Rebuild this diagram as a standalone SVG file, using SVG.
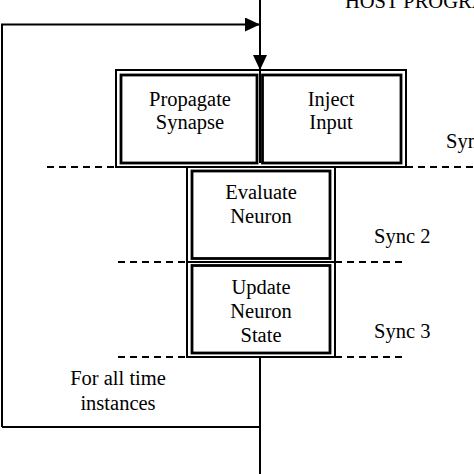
<svg xmlns="http://www.w3.org/2000/svg" width="474" height="474" viewBox="0 0 474 474">
<style>
text{font-family:"Liberation Serif","Times New Roman",serif;font-size:20.5px;fill:#000}
.c{text-anchor:middle}
.outer{fill:none;stroke:#000;stroke-width:2}
.inner{fill:none;stroke:#000;stroke-width:2.8}
.ln{fill:none;stroke:#000;stroke-width:2}
.dash{fill:none;stroke:#000;stroke-width:1.8;stroke-dasharray:7,5}
</style>
<defs>
<marker id="ahB" markerWidth="15" markerHeight="14" refX="15" refY="7" orient="auto" markerUnits="userSpaceOnUse" viewBox="0 0 15 14">
<path d="M0,0 L15,7 L0,14 Z" fill="#000"/>
</marker>
</defs>
<rect width="474" height="474" fill="#fff"/>
<g id="connectors">
<path class="ln" d="M260,0 V70" marker-end="url(#ahB)"/>
<path class="ln" d="M2,427 V24.5 H260" marker-end="url(#ahB)"/>
<path class="ln" d="M260,70 V163"/>
<path class="ln" d="M260,357 V474 M260,427 H2"/>
</g>
<g id="sync-lines">
<path class="dash" d="M47,167 H116 M406,167 H474"/>
<path class="dash" d="M118,262 H187 M335,262 H405"/>
<path class="dash" d="M118,357 H187 M335,357 H405"/>
</g>
<g id="host-label"><text x="345" y="7.5">HOST PROGRAM</text></g>
<g id="propagate-inject">
<rect class="outer" x="116" y="70" width="290" height="97"/>
<rect class="inner" x="121" y="75" width="136" height="88"/>
<rect class="inner" x="262.5" y="75" width="138.5" height="88"/>
</g>
<g id="propagate-synapse">
<text class="c" x="190" y="106">Propagate</text>
<text class="c" x="190" y="129">Synapse</text>
</g>
<g id="inject-input">
<text class="c" x="331" y="106">Inject</text>
<text class="c" x="331" y="129">Input</text>
</g>
<g id="evaluate-neuron">
<rect class="outer" x="187" y="167" width="148" height="95"/>
<rect class="inner" x="192" y="171" width="138" height="87.5"/>
<text class="c" x="261" y="199">Evaluate</text>
<text class="c" x="261" y="223">Neuron</text>
</g>
<g id="update-neuron-state">
<rect class="outer" x="187" y="262" width="148" height="95"/>
<rect class="inner" x="192" y="265.5" width="138" height="87.5"/>
<text class="c" x="261" y="294">Update</text>
<text class="c" x="261" y="318">Neuron</text>
<text class="c" x="261" y="342">State</text>
</g>
<g id="sync-labels">
<text x="446" y="148">Sync 1</text>
<text x="374" y="243">Sync 2</text>
<text x="374" y="338">Sync 3</text>
</g>
<g id="loop-label">
<text class="c" x="118" y="385">For all time</text>
<text class="c" x="118" y="410">instances</text>
</g>
</svg>
